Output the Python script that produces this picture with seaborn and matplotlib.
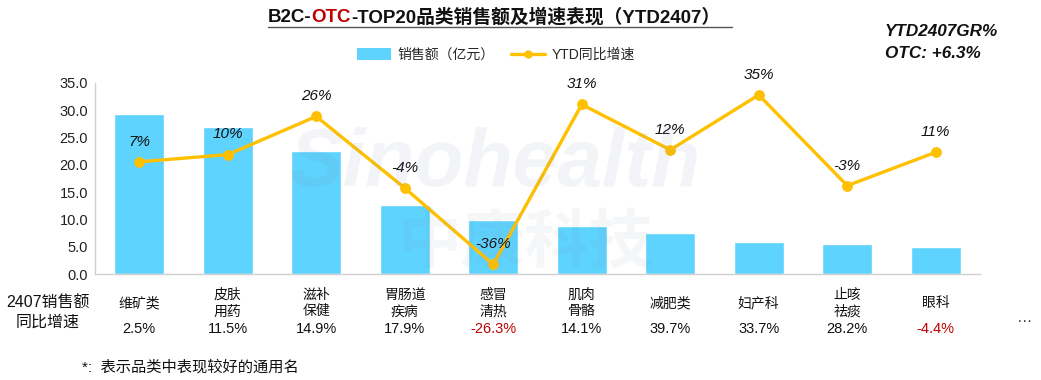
import numpy as np
import pandas as pd
import matplotlib
matplotlib.use("Agg")
import matplotlib.pyplot as plt
import matplotlib.transforms as mtransforms
from matplotlib.patches import Patch
from matplotlib.lines import Line2D
import seaborn as sns

categories = ["维矿类", "皮肤\n用药", "滋补\n保健", "胃肠道\n疾病", "感冒\n清热",
              "肌肉\n骨骼", "减肥类", "妇产科", "止咳\n祛痰", "眼科"]
sales = [29.3, 26.9, 22.5, 12.6, 9.9, 8.8, 7.6, 5.9, 5.5, 4.9]
ytd_growth = [7, 10, 26, -4, -36, 31, 12, 35, -3, 11]
growth_2407 = ["2.5%", "11.5%", "14.9%", "17.9%", "-26.3%", "14.1%", "39.7%", "33.7%", "28.2%", "-4.4%"]

sns.set_theme(style="white")
plt.rcParams["font.family"] = ["Liberation Sans", "Noto Sans CJK SC", "DejaVu Sans"]

BAR = "#5dd3fe"
GOLD = "#ffc000"
RED = "#c00000"

fig = plt.figure(figsize=(10.41, 3.8), dpi=100)
ax = fig.add_axes([95 / 1041, 1 - 274 / 380, 885 / 1041, 191 / 380])

df = pd.DataFrame({"cat": categories, "sales": sales, "growth": ytd_growth})
df["pos"] = np.arange(len(df))

sns.barplot(data=df, x="cat", y="sales", color=BAR, width=0.565,
            saturation=1, ax=ax)

ax2 = ax.twinx()
sns.lineplot(data=df, x="pos", y="growth", color=GOLD, linewidth=2.4,
             marker="o", markersize=7, markeredgecolor=GOLD, ax=ax2)
ax2.set_ylim(-40, 40)
ax2.axis("off")

ax.set_xlim(-0.5, len(categories) - 0.5)
ax.set_ylim(0, 35)
ax.set_yticks(np.arange(0, 36, 5))
ax.set_yticklabels([f"{v:.1f}" for v in np.arange(0, 36, 5)], fontsize=10.5, color="#222222")
ax.set_xticks(range(len(categories)))
ax.set_xticklabels([])
ax.set_xlabel("")
ax.set_ylabel("")
ax.tick_params(axis="both", length=0, pad=5)
for s in ["top", "right"]:
    ax.spines[s].set_visible(False)
for s in ["left", "bottom"]:
    ax.spines[s].set_color("#d0d0d0")
    ax.spines[s].set_linewidth(1)

for x, g in zip(df["pos"], df["growth"]):
    ax2.annotate(f"{g}%", (x, g), xytext=(0, 14.5), textcoords="offset points",
                 ha="center", va="center", fontsize=11, style="italic", color="#111111")

# faint watermark
fig.text(495 / 1041, 1 - 165 / 380, "Sinohealth", ha="center", va="center", fontsize=58,
         weight="bold", style="italic", color="#7f8fb0", alpha=0.09, zorder=5)
fig.text(525 / 1041, 1 - 245 / 380, "中康科技", ha="center", va="center", fontsize=46,
         weight="bold", color="#7f8fb0", alpha=0.08, zorder=5)

# category / growth table below the axis
tr = mtransforms.blended_transform_factory(ax.transData, fig.transFigure)
for i, (c, g) in enumerate(zip(categories, growth_2407)):
    ax.text(i, 1 - 303 / 380, c, transform=tr, ha="center", va="center",
            fontsize=10, linespacing=1.25, color="#111111")
    ax.text(i, 1 - 329 / 380, g, transform=tr, ha="center", va="center",
            fontsize=10.5, color=RED if g.startswith("-") else "#111111")

fig.text(48 / 1041, 1 - 313 / 380, "2407销售额\n同比增速", ha="center", va="center",
         fontsize=11.5, linespacing=1.3, color="#111111")
fig.text(1025 / 1041, 1 - 318 / 380, "…", ha="center", va="center", fontsize=11, color="#333333")
fig.text(82 / 1041, 1 - 367 / 380, "*:  表示品类中表现较好的通用名", ha="left", va="center",
         fontsize=11, color="#111111")

# right-top note
fig.text(885 / 1041, 1 - 32 / 380, "YTD2407GR%", ha="left", va="center", fontsize=12.3,
         weight="bold", style="italic", color="#111111")
fig.text(885 / 1041, 1 - 54 / 380, "OTC: +6.3%", ha="left", va="center", fontsize=12.3,
         weight="bold", style="italic", color="#111111")

# legend
handles = [Patch(facecolor=BAR, edgecolor="none", label="销售额（亿元）"),
           Line2D([0], [0], color=GOLD, lw=2.4, marker="o", markersize=5, label="YTD同比增速")]
fig.legend(handles=handles, loc="center", bbox_to_anchor=(496 / 1041, 1 - 55 / 380), ncol=2,
           frameon=False, fontsize=10, handlelength=2.4, handleheight=0.9,
           columnspacing=1.2, handletextpad=0.5)

# multi-colour title
parts = [("B2C-", "#111111"), ("OTC", RED), ("-TOP20品类销售额及增速表现（YTD2407）", "#111111")]
fig.canvas.draw()
renderer = fig.canvas.get_renderer()
x0 = 268
y_title = 1 - 17 / 380
for txt, col in parts:
    t = fig.text(x0 / 1041, y_title, txt, ha="left", va="center", fontsize=13.5,
                 weight="bold", color=col)
    bb = t.get_window_extent(renderer)
    x0 += bb.width
fig.add_artist(Line2D([268 / 1041, 732 / 1041], [1 - 27 / 380] * 2, color="#555555",
                      lw=1.0, transform=fig.transFigure))

fig.savefig("out.png", dpi=100)
